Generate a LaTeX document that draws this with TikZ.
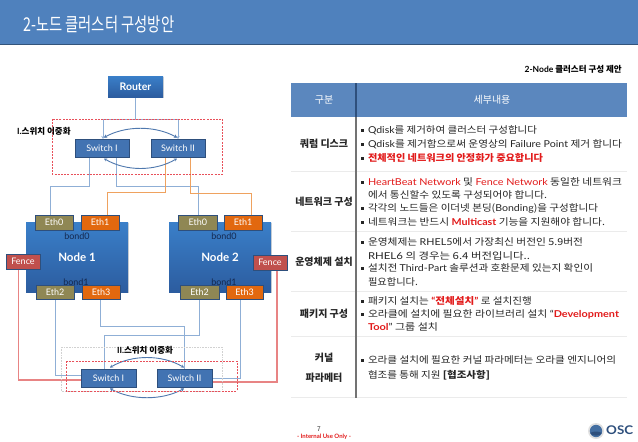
\documentclass[tikz,border=0pt]{standalone}
\usepackage{fontspec}
\usepackage{graphicx}
\usetikzlibrary{backgrounds,shadows,arrows.meta,positioning}
\setmainfont{Noto Sans CJK KR}
\newfontfamily\lat{Lato}
\newcommand\Lat[1]{{\lat #1}}
\definecolor{barblue}{HTML}{4F81BD}
\definecolor{hdrblue}{HTML}{5B87BE}
\definecolor{edge}{HTML}{2E4F7C}
\definecolor{swblue}{HTML}{4273B2}
\definecolor{olive}{HTML}{8F8754}
\definecolor{orng}{HTML}{E2680F}
\definecolor{fencered}{HTML}{C0504D}
\definecolor{lblue}{HTML}{8FAFD6}
\definecolor{lorange}{HTML}{EFA25F}
\definecolor{lred}{HTML}{E88484}
\definecolor{arcblue}{HTML}{4F78AE}
\definecolor{dashred}{HTML}{E8505A}
\definecolor{redtx}{HTML}{E21B1B}
\definecolor{navy}{HTML}{14284F}
\definecolor{txt}{HTML}{262626}
\definecolor{shadetop}{HTML}{3A7FC9}
\definecolor{shadebot}{HTML}{2C5C9F}
\tikzset{
  box/.style={rectangle,inner sep=0pt,outer sep=0pt,line width=.9pt,draw=edge,text=white,
    font=\fontsize{9}{11}\selectfont\lat},
  router/.style={box,draw=none,top color=shadetop,bottom color=shadebot,font=\fontsize{10.5}{12}\selectfont\lat\bfseries,
    drop shadow={opacity=.3,shadow xshift=.8pt,shadow yshift=-.8pt}},
  switchbox/.style={box,fill=swblue},
  hostbox/.style={box,draw=none,top color=shadetop,bottom color=shadebot,font=\fontsize{11.5}{13}\selectfont\lat\bfseries,
    drop shadow={opacity=.3,shadow xshift=.8pt,shadow yshift=-.8pt}},
  ethA/.style={box,fill=olive},
  ethB/.style={box,fill=orng},
  fencebox/.style={box,fill=fencered},
  bondtext/.style={inner sep=0pt,text=navy,font=\fontsize{9}{11}\selectfont\lat},
  wire/.style={draw=lblue,line width=.9pt},
  owire/.style={draw=lorange,line width=.9pt},
  rwire/.style={draw=lred,line width=1.1pt},
  twin/.style={draw=arcblue,line width=.9pt,{Stealth[length=3pt,width=3.5pt]}-{Stealth[length=3pt,width=3.5pt]}},
  zone/.style={draw=dashred,line width=.8pt,dash pattern=on 2pt off 1.2pt},
  zonegray/.style={draw=black!18,line width=.6pt,densely dotted},
  rowline/.style={draw=black!8,line width=1pt},
  cellhead/.style={inner sep=0pt,text=white,font=\fontsize{10}{12}\selectfont},
  cellkey/.style={inner sep=0pt,text=txt,font=\fontsize{10}{12}\selectfont\bfseries},
  cellline/.style={inner sep=0pt,outer sep=0pt,anchor=base west,text=txt,font=\fontsize{9.5}{11}\selectfont},
  bullet/.style={inner sep=0pt,minimum size=3pt,fill=black!85},
  zonelabel/.style={inner sep=0pt,text=black,font=\fontsize{8.5}{10}\selectfont\bfseries},
}
\newcommand\bx[7]{\node[#6,minimum width={(#4-#2)*1pt},minimum height={(#5-#3)*1pt}] (#1) at ({(#2+#4)/2},{(#3+#5)/2}) {#7};}
\newcount\linecount
\newcommand\tl[3]{\global\advance\linecount by 1
  \node[cellline] (ln\the\linecount) at (368,#1+3.5) {\resizebox{\dimexpr(#2pt-368pt)\relax}{\height}{#3}};}
\newcommand\bul[1]{\global\advance\linecount by 1
  \node[bullet] (bu\the\linecount) at (362,#1) {};}
\begin{document}
\begin{tikzpicture}[x=1pt,y=-1pt]
\useasboundingbox (0,0) rectangle (638,442);
% title bar
\fill[barblue] (0,0) rectangle (638,44);
\draw[black!35!barblue,line width=.8pt] (0,44.4) -- (638,44.4);
\node[inner sep=0pt,anchor=base west,text=white,font=\fontsize{19}{22}\selectfont] (title) at (23,31.5) {\resizebox{151pt}{\height}{2-노드 클러스터 구성방안}};
% network boxes
\bx{router}{108}{76}{163}{97}{router}{Router}
\bx{sa}{75}{139}{129}{157}{switchbox}{Switch I}
\bx{sb}{151}{139}{205}{157}{switchbox}{Switch II}
\bx{nodea}{26}{222}{128}{292}{hostbox}{}
\bx{nodeb}{169}{222}{271}{292}{hostbox}{}
\node[inner sep=0pt,text=white,font=\fontsize{11.5}{13}\selectfont\lat\bfseries] (nodealabel) at (77,257) {Node 1};
\node[inner sep=0pt,text=white,font=\fontsize{11.5}{13}\selectfont\lat\bfseries] (nodeblabel) at (220,257) {Node 2};
\bx{ezeroa}{35}{215}{73}{230}{ethA}{Eth0}
\bx{eonea}{81}{215}{119}{230}{ethB}{Eth1}
\bx{ezerob}{178.5}{215}{217}{230}{ethA}{Eth0}
\bx{eoneb}{224}{215}{262}{230}{ethB}{Eth1}
\bx{etwoa}{36}{285}{74}{299}{ethA}{Eth2}
\bx{ethra}{82}{285}{120}{299}{ethB}{Eth3}
\bx{etwob}{180}{285}{219}{299}{ethA}{Eth2}
\bx{ethrb}{226}{285}{263}{299}{ethB}{Eth3}
\bx{fencea}{6}{254}{40}{269}{fencebox}{Fence}
\bx{fenceb}{253}{255}{287}{270}{fencebox}{Fence}
\bx{sc}{81}{369}{136}{387}{switchbox}{Switch I}
\bx{sd}{157}{369}{212}{387}{switchbox}{Switch II}
\node[bondtext] (bza) at (77,236) {bond0};
\node[bondtext] (bzb) at (224,236) {bond0};
\node[bondtext,anchor=base] (boa) at (76,285) {bond1};
\node[bondtext,anchor=base] (bob) at (224,285) {bond1};
% connectors behind the boxes
\begin{scope}[on background layer]
\fill[white] (0,0) rectangle (638,442);
\draw[wire] (router.south) -- (router.south |- 0,119) coordinate (hub);
\draw[wire,-{Stealth[length=3pt,width=3.5pt]}] (hub) -| ([xshift=1pt]sa.north);
\draw[wire,-{Stealth[length=3pt,width=3.5pt]}] (hub) -| (sb.north);
\draw[wire] ([xshift=-13pt]sa.south) -- ++(0,29.5) -| ([xshift=-4pt]ezeroa.north);
\draw[wire] ([xshift=14.5pt]sa.south) -- ++(0,29) -| ([xshift=.75pt]ezerob.north);
\draw[owire] ([xshift=-13pt]sb.south) -- ++(0,35.5) -| ([xshift=7pt]eonea.north);
\draw[owire] ([xshift=12pt]sb.south) -- ++(0,36) -| ([xshift=8pt]eoneb.north);
\draw[wire] (etwoa.south) -- ++(0,76) -- (sc.west |- 0,375);
\draw[wire] ([xshift=-.5pt]ethra.south) -- ++(0,27) -| (sd.north);
\draw[wire] (etwob.south) -- ++(0,36) -| ([xshift=-4.5pt]sc.north);
\draw[wire] ([xshift=-4.5pt]ethrb.south) -- ++(0,79) -- (sd.east |- 0,378);
\draw[rwire] ([xshift=-4.5pt]fencea.south) -- ++(0,111) -- (sc.west |- 0,380);
\draw[rwire] ([xshift=7pt]fenceb.south) -- ++(0,112) -- (sd.east |- 0,382);
\end{scope}
\draw[twin] ([shift={(2pt,1.5pt)}]sa.north) .. controls +(22,-12) and +(-22,-12) .. ([shift={(-1pt,1.5pt)}]sb.north);
\draw[twin] ([shift={(2pt,-1.5pt)}]sa.south) .. controls +(22,13) and +(-22,13) .. ([shift={(-1pt,-1.5pt)}]sb.south);
\draw[twin] ([shift={(1.5pt,1.5pt)}]sc.north) .. controls +(22,-13) and +(-22,-13) .. ([shift={(-.5pt,1.5pt)}]sd.north);
\draw[twin] ([shift={(1.5pt,-1.5pt)}]sc.south) .. controls +(22,12) and +(-22,12) .. ([shift={(-.5pt,-1.5pt)}]sd.south);
\draw[zone] (52,119) rectangle (222.5,174);
\draw[zonegray] (61,347) rectangle (222,391);
\draw[zone] (66,361) rectangle (237,391);
\node[zonelabel,anchor=west] (lbla) at (17,131) {\Lat{I.}스위치 이중화};
\node[zonelabel] (lblb) at (145,350) {\Lat{II.}스위치 이중화};
% table
\node[inner sep=0pt,anchor=base east,text=black,font=\fontsize{8.5}{10}\selectfont\bfseries] (subtitle) at (622,72) {\Lat{2-Node} 클러스터 구성 제안};
\fill[hdrblue] (291,83) rectangle (627,117);
\foreach \yy in {171,231,291,336,397} \draw[rowline] (291,\yy) -- (627,\yy);
\draw[edge,line width=1.2pt] (356,83) -- (356,117);
\draw[black!55,line width=1.2pt] (356,117) -- (356,398);
\node[cellhead] (hleft) at (324,100) {구분};
\node[cellhead] (hright) at (492,100) {세부내용};
\node[cellkey] (ka) at (324,144) {쿼럼 디스크};
\node[cellkey] (kb) at (324,202) {네트워크 구성};
\node[cellkey] (kc) at (324,262) {운영체제 설치};
\node[cellkey] (kd) at (324,314) {패키지 구성};
\node[cellkey] (ke) at (324,358) {커널};
\node[cellkey] (kf) at (324,378) {파라메터};
\bul{130}\tl{130}{537}{\Lat{Qdisk}를 제거하여 클러스터 구성합니다}
\bul{144}\tl{144}{622}{\Lat{Qdisk}를 제거함으로써 운영상의 \Lat{Failure Point} 제거 합니다}
\bul{158}\tl{158}{543}{\textcolor{redtx}{\bfseries 전체적인 네트워크의 안정화가 중요합니다}}
\bul{182}\tl{182}{622}{\textcolor{redtx}{\Lat{HeartBeat Network}} 및 \textcolor{redtx}{\Lat{Fence Network}} 동일한 네트워크}
\tl{195}{547}{에서 통신할수 있도록 구성되어야 합니다.}
\bul{208}\tl{208}{598}{각각의 노드들은 이더넷 본딩(\Lat{Bonding})을 구성합니다}
\bul{222}\tl{222}{605}{네트워크는 반드시 \textcolor{redtx}{\Lat{\bfseries Multicast}} 기능을 지원해야 합니다.}
\bul{242}\tl{242}{583}{운영체제는 \Lat{RHEL5}에서 가장최신 버전인 5.9버전}
\tl{256}{530}{\Lat{RHEL6} 의 경우는 6.4 버전입니다..}
\bul{268}\tl{268}{593}{설치전 \Lat{Third-Part} 솔루션과 호환문제 있는지 확인이}
\tl{282}{418}{필요합니다.}
\bul{301}\tl{301}{532}{패키지 설치는 \textcolor{redtx}{\bfseries \Lat{“}전체설치\Lat{”}} 로 설치진행}
\bul{314}\tl{314}{619}{오라클에 설치에 필요한 라이브러리 설치 \Lat{“}\textcolor{redtx}{\Lat{\bfseries Development}}}
\tl{327}{438}{\textcolor{redtx}{\Lat{\bfseries Tool}}\Lat{”} 그룹 설치}
\bul{360}\tl{360}{616}{오라클 설치에 필요한 커널 파라메터는 오라클 엔지니어의}
\tl{375}{490}{협조를 통해 지원 {\bfseries [협조사항]}}
% footer
\node[inner sep=0pt,text=txt,font=\fontsize{6.5}{8}\selectfont] (pageno) at (319,429) {7};
\node[inner sep=0pt,text=redtx,font=\fontsize{6}{7}\selectfont\lat\bfseries] (internal) at (324,437) {- Internal Use Only -};
% logo
\fill[black!12!white] (596,431) circle (8);
\fill[barblue!85!black] (596,431) circle (6.2);
\fill[edge] (590.2,433) .. controls (593,431) and (599,431) .. (601.8,433) .. controls (600,436.5) and (592,436.5) .. (590.2,433);
\node[inner sep=0pt,anchor=west,text=edge,font=\fontsize{12}{14}\selectfont\lat\bfseries] (osc) at (606,430) {\resizebox{27pt}{\height}{OSC}};
\end{tikzpicture}
\end{document}
